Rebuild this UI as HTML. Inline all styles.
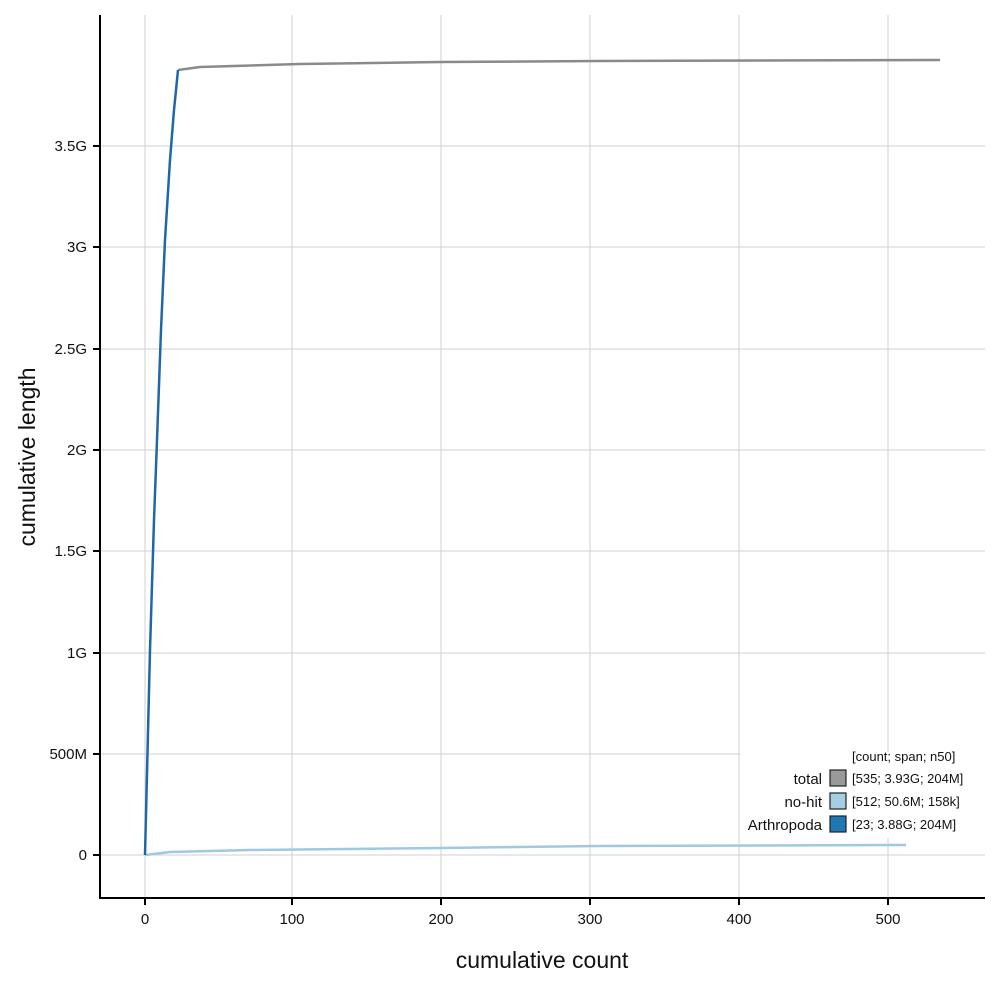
<!DOCTYPE html>
<html><head><meta charset="utf-8"><style>body{margin:0;background:#fff}svg{display:block}</style></head><body>
<svg width="1000" height="983" xmlns="http://www.w3.org/2000/svg" font-family="Liberation Sans, sans-serif">
<rect width="1000" height="983" fill="#fff"/>
<g stroke="#d0d0d0" stroke-width="1">
<line x1="145" y1="15" x2="145" y2="898"/><line x1="292" y1="15" x2="292" y2="898"/><line x1="441" y1="15" x2="441" y2="898"/><line x1="590" y1="15" x2="590" y2="898"/><line x1="739" y1="15" x2="739" y2="898"/><line x1="888" y1="15" x2="888" y2="898"/>
<line x1="100" y1="855" x2="985" y2="855"/><line x1="100" y1="754" x2="985" y2="754"/><line x1="100" y1="653" x2="985" y2="653"/><line x1="100" y1="551" x2="985" y2="551"/><line x1="100" y1="450" x2="985" y2="450"/><line x1="100" y1="349" x2="985" y2="349"/><line x1="100" y1="247" x2="985" y2="247"/><line x1="100" y1="146" x2="985" y2="146"/>
</g>
<rect x="740" y="752" width="245" height="86" fill="#fff"/>
<polyline fill="none" stroke="#8a8a8a" stroke-width="2.5" points="178,70 200,67 300,64 440,62 600,61 940,60"/>
<polyline fill="none" stroke="#9ecae1" stroke-width="2.5" points="145,855 170,852 250,850 440,848 600,846 906,845"/>
<polyline fill="none" stroke="#1f67a8" stroke-width="2.5" points="145,855 150,650 154,520 157,440 161,330 165,240 170,160 174,110 178,70"/>
<g stroke="#000" stroke-width="2">
<line x1="100" y1="15" x2="100" y2="899"/><line x1="99" y1="898" x2="985" y2="898"/>
</g>
<g stroke="#000" stroke-width="2">
<line x1="145" y1="898" x2="145" y2="905"/><line x1="292" y1="898" x2="292" y2="905"/><line x1="441" y1="898" x2="441" y2="905"/><line x1="590" y1="898" x2="590" y2="905"/><line x1="739" y1="898" x2="739" y2="905"/><line x1="888" y1="898" x2="888" y2="905"/>
<line x1="93" y1="855" x2="100" y2="855"/><line x1="93" y1="754" x2="100" y2="754"/><line x1="93" y1="653" x2="100" y2="653"/><line x1="93" y1="551" x2="100" y2="551"/><line x1="93" y1="450" x2="100" y2="450"/><line x1="93" y1="349" x2="100" y2="349"/><line x1="93" y1="247" x2="100" y2="247"/><line x1="93" y1="146" x2="100" y2="146"/>
</g>
<g font-size="15" fill="#111" text-anchor="middle">
<text x="145" y="924">0</text><text x="292" y="924">100</text><text x="441" y="924">200</text><text x="590" y="924">300</text><text x="739" y="924">400</text><text x="888" y="924">500</text>
</g>
<g font-size="15" fill="#111" text-anchor="end">
<text x="87" y="860">0</text><text x="87" y="759">500M</text><text x="87" y="658">1G</text><text x="87" y="556">1.5G</text><text x="87" y="455">2G</text><text x="87" y="354">2.5G</text><text x="87" y="252">3G</text><text x="87" y="151">3.5G</text>
</g>
<text x="542" y="968" font-size="23" text-anchor="middle" fill="#111">cumulative count</text>
<text transform="translate(35,457) rotate(-90)" font-size="23" text-anchor="middle" fill="#111">cumulative length</text>
<g font-size="13" fill="#111">
<text x="852" y="761">[count; span; n50]</text>
<text x="852" y="783">[535; 3.93G; 204M]</text>
<text x="852" y="806">[512; 50.6M; 158k]</text>
<text x="852" y="829">[23; 3.88G; 204M]</text>
</g>
<g font-size="15" fill="#111" text-anchor="end">
<text x="822" y="784">total</text><text x="822" y="807">no-hit</text><text x="822" y="830">Arthropoda</text>
</g>
<rect x="830" y="770" width="16" height="16" fill="#999" stroke="#222" stroke-width="1.2"/>
<rect x="830" y="793" width="16" height="16" fill="#a6cee3" stroke="#222" stroke-width="1.2"/>
<rect x="830" y="816" width="16" height="16" fill="#1f78b4" stroke="#222" stroke-width="1.2"/>
</svg>
</body></html>
